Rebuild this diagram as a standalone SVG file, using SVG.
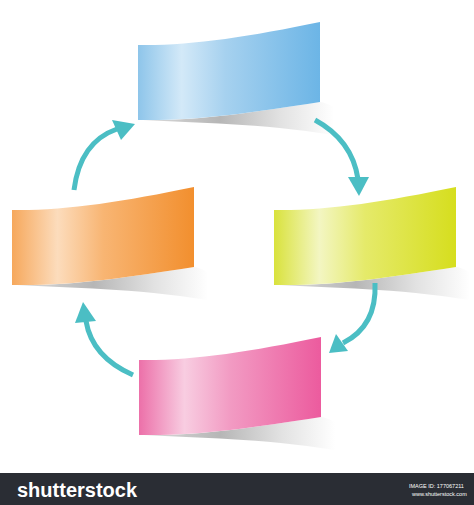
<svg xmlns="http://www.w3.org/2000/svg" width="474" height="505" viewBox="0 0 474 505">
<defs>
<linearGradient id="gBlue" x1="0" y1="0" x2="1" y2="0">
<stop offset="0" stop-color="#8ec5ea"/><stop offset="0.24" stop-color="#d3e9f8"/><stop offset="0.48" stop-color="#a6d1ef"/><stop offset="1" stop-color="#6cb5e6"/>
</linearGradient>
<linearGradient id="gGreen" x1="0" y1="0" x2="1" y2="0">
<stop offset="0" stop-color="#d9e23c"/><stop offset="0.25" stop-color="#f3f6c2"/><stop offset="0.5" stop-color="#e5ea6a"/><stop offset="1" stop-color="#d6de1e"/>
</linearGradient>
<linearGradient id="gPink" x1="0" y1="0" x2="1" y2="0">
<stop offset="0" stop-color="#ec70a9"/><stop offset="0.25" stop-color="#f8cde1"/><stop offset="0.5" stop-color="#f29bc3"/><stop offset="1" stop-color="#ec5b9e"/>
</linearGradient>
<linearGradient id="gOrange" x1="0" y1="0" x2="1" y2="0">
<stop offset="0" stop-color="#f6a85c"/><stop offset="0.25" stop-color="#fcdcbc"/><stop offset="0.5" stop-color="#f8b573"/><stop offset="1" stop-color="#f28f2e"/>
</linearGradient>
<linearGradient id="gShadow" x1="0" y1="0" x2="1" y2="0">
<stop offset="0" stop-color="#dcdcdc"/><stop offset="0.4" stop-color="#b6b6b6"/><stop offset="0.72" stop-color="#e2e2e2"/><stop offset="1" stop-color="#ffffff"/>
</linearGradient>
<path id="shadow" d="M5,75 C60,78 120,78 196,90 L196,62 C188,58 184,57 182,57 C110,68 60,76 5,75 Z"/>
<path id="note" d="M0,0 C50,1 110,-8 182,-23 L182,57 C110,68 60,76 0,75 Z"/>
</defs>
<style>
.shadow{fill:url(#gShadow)}
.arrow{fill:none;stroke:#4bbec4;stroke-width:5}
.head{fill:#4bbec4}
.wm1{font-family:"Liberation Sans",Arial,sans-serif;fill:#ffffff}
</style>
<rect x="0" y="0" width="474" height="505" fill="#ffffff"/>

<g id="note-blue" transform="translate(138,45)">
<use href="#shadow" class="shadow"/>
<use href="#note" fill="url(#gBlue)"/>
</g>
<g id="note-green" transform="translate(274,210)">
<use href="#shadow" class="shadow"/>
<use href="#note" fill="url(#gGreen)"/>
</g>
<g id="note-pink" transform="translate(139,360)">
<use href="#shadow" class="shadow"/>
<use href="#note" fill="url(#gPink)"/>
</g>
<g id="note-orange" transform="translate(12,210)">
<use href="#shadow" class="shadow"/>
<use href="#note" fill="url(#gOrange)"/>
</g>

<g id="connectors">
<path class="arrow" d="M74,190 Q80,142 117,129"/>
<polygon class="head" points="135,124 112,120 121,140"/>
<path class="arrow" d="M315,120 Q352,140 358,179"/>
<polygon class="head" points="348,177 369,177 359,196"/>
<path class="arrow" d="M375,283 Q377,326 343,343"/>
<polygon class="head" points="329,353 336,334 348,351"/>
<path class="arrow" d="M133,375 Q92,357 86,321"/>
<polygon class="head" points="83,302 75,323 96,321"/>
</g>

<g id="footer">
<rect x="0" y="473" width="474" height="32" fill="#2a2d34"/>
<text class="wm1" x="17" y="497" font-size="20" font-weight="600" font-family="'Open Sans','Liberation Sans',sans-serif">shutterstock</text>
<text class="wm1" x="409" y="488" font-size="5.5" fill="#cccccc">IMAGE ID: 177067211</text>
<text class="wm1" x="412" y="496" font-size="5.5" fill="#aaaaaa">www.shutterstock.com</text>
</g>
</svg>
